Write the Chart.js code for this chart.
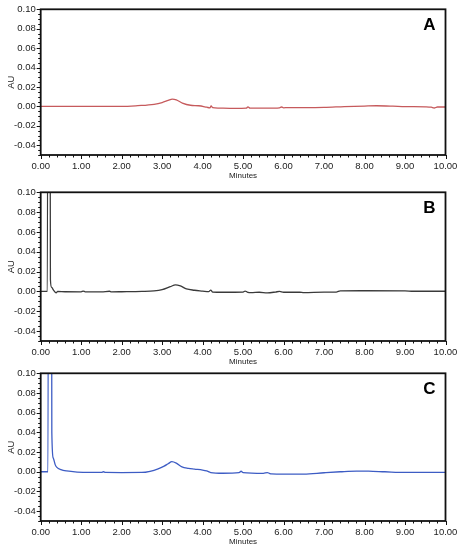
<!DOCTYPE html>
<html>
<head>
<meta charset="utf-8">
<script src="https://cdn.jsdelivr.net/npm/chart.js@4.4.1/dist/chart.umd.min.js"></script>
<style>
  body { margin: 0; background: #fff; }
  .panel { position: absolute; left: 0; width: 461px; }
</style>
</head>
<body>
<div class="panel" style="top:0px;height:183px"><canvas id="chartA" width="461" height="183"></canvas></div>
<div class="panel" style="top:183px;height:186px"><canvas id="chartB" width="461" height="186"></canvas></div>
<div class="panel" style="top:364px;height:185px"><canvas id="chartC" width="461" height="185"></canvas></div>
<script>
// chromatograms (minutes, AU)
const xTickValues = [0, 1, 2, 3, 4, 5, 6, 7, 8, 9, 10];
const yTickValues = [-0.04, -0.02, 0.00, 0.02, 0.04, 0.06, 0.08, 0.10];

const timesA = [0, 1.0, 2.0, 2.4, 2.8, 3.0, 3.15, 3.25, 3.35, 3.5, 3.7, 3.9, 4.1, 4.18, 4.21, 4.25, 4.4, 4.8, 5.08, 5.12, 5.17, 5.6, 5.9, 5.95, 6.0, 6.1, 6.5, 7.0, 7.5, 8.0, 8.3, 8.7, 9.0, 9.5, 9.65, 9.72, 9.8, 10.0];
const auA   = [0, 0, 0, 0.0008, 0.0022, 0.004, 0.0062, 0.0076, 0.0068, 0.0035, 0.0012, 0.0007, -0.0008, -0.0015, 0.0005, -0.0012, -0.0017, -0.002, -0.0018, -0.0004, -0.0018, -0.0018, -0.0014, -0.0006, -0.0014, -0.0012, -0.0012, -0.001, -0.0002, 0.0004, 0.0007, 0.0003, -0.0002, -0.0004, -0.0008, -0.0016, -0.0006, -0.0006];

const timesB = [0, 0.165, 0.185, 0.215, 0.24, 0.27, 0.32, 0.38, 0.42, 0.6, 1.0, 1.05, 1.1, 1.5, 1.7, 1.75, 2.0, 2.5, 2.8, 3.0, 3.2, 3.33, 3.45, 3.6, 3.8, 4.0, 4.15, 4.2, 4.25, 4.5, 5.0, 5.05, 5.1, 5.2, 5.4, 5.6, 5.8, 5.9, 6.0, 6.4, 6.5, 7.0, 7.3, 7.4, 8.0, 9.0, 9.2, 10.0];
const auB   = [0, 0, 0.6, 0.6, 0.012, 0.004, 0.001, -0.0015, 0.0, -0.0003, -0.0004, 0.0004, -0.0004, -0.0004, 0.0002, -0.0004, -0.0003, 0.0, 0.0005, 0.0018, 0.0048, 0.0066, 0.0055, 0.0025, 0.0012, 0.0004, -0.0002, 0.0014, -0.0006, -0.0008, -0.0006, 0.0004, -0.0006, -0.0012, -0.0008, -0.0014, -0.0006, 0.0, -0.0008, -0.0008, -0.0012, -0.0006, -0.0006, 0.0006, 0.0007, 0.0006, 0.0002, 0.0002];

const timesC = [0, 0.18, 0.2, 0.255, 0.275, 0.31, 0.36, 0.4, 0.5, 0.64, 0.9, 1.2, 1.5, 1.55, 1.6, 2.0, 2.5, 2.7, 2.9, 3.05, 3.15, 3.24, 3.35, 3.49, 3.65, 3.8, 4.0, 4.1, 4.2, 4.5, 4.9, 4.95, 5.0, 5.5, 5.6, 5.65, 5.7, 6.0, 6.5, 7.0, 7.4, 7.8, 8.1, 8.5, 9.0, 10.0];
const auC   = [0, 0, 0.6, 0.6, 0.04, 0.014, 0.007, 0.0045, 0.0022, 0.0008, -0.0003, -0.0007, -0.0007, 0.0, -0.0007, -0.0008, -0.0007, 0.0005, 0.003, 0.0058, 0.0082, 0.0103, 0.0088, 0.005, 0.0035, 0.0027, 0.0017, 0.0008, -0.0008, -0.0015, -0.0009, 0.0005, -0.0008, -0.0016, -0.0008, -0.0016, -0.0022, -0.0024, -0.0024, -0.001, 0.0, 0.0007, 0.0006, 0.0, -0.0007, -0.0007];

const FONT = '"Liberation Sans", Arial, Helvetica, sans-serif';

// frame, tick marks and panel letter
const framePlugin = {
  id: 'frame',
  afterDraw(chart, args, opts) {
    const {ctx, chartArea: a, scales: {x, y}} = chart;
    ctx.save();
    ctx.strokeStyle = '#111';
    ctx.lineWidth = 1.8;
    ctx.strokeRect(a.left, a.top, a.right - a.left, a.bottom - a.top);
    ctx.lineWidth = 1;
    ctx.beginPath();
    for (let i = 0; i <= 50; i++) {
      const px = Math.round(x.getPixelForValue(i * 0.2)) + 0.5;
      const len = i % 5 === 0 ? 4 : 2.5;
      ctx.moveTo(px, a.bottom);
      ctx.lineTo(px, a.bottom + len);
    }
    for (let i = 0; i <= 30; i++) {
      const v = -0.05 + i * 0.005;
      const py = Math.round(y.getPixelForValue(v)) + 0.5;
      const len = i % 4 === 2 ? 4 : 2.5;
      ctx.moveTo(a.left, py);
      ctx.lineTo(a.left - len, py);
    }
    ctx.stroke();
    ctx.fillStyle = '#000';
    ctx.font = 'bold 17px ' + FONT;
    ctx.textAlign = 'center';
    ctx.textBaseline = 'middle';
    ctx.fillText(opts.letter, a.right - 16, a.top + 16);
    ctx.restore();
  }
};

function makeChart(id, times, values, color, letter, topPad) {
  const points = times.map((t, i) => ({x: t, y: values[i]}));
  return new Chart(document.getElementById(id), {
    type: 'line',
    data: {
      datasets: [{
        data: points,
        borderColor: color,
        borderWidth: 1.3,
        pointRadius: 0,
        cubicInterpolationMode: 'monotone',
        fill: false
      }]
    },
    options: {
      responsive: false,
      animation: false,
      layout: {padding: {top: topPad, right: 15.5, left: 0, bottom: 0}},
      plugins: {
        legend: {display: false},
        tooltip: {enabled: false},
        frame: {letter: letter}
      },
      scales: {
        x: {
          type: 'linear',
          min: 0,
          max: 10,
          grid: {display: false, drawTicks: false},
          border: {display: false},
          afterBuildTicks: s => { s.ticks = xTickValues.map(v => ({value: v})); },
          afterFit: s => { s.height = 28; s.paddingLeft = 0; s.paddingRight = 0; },
          ticks: {
            padding: 6,
            maxRotation: 0,
            autoSkip: false,
            color: '#222',
            font: {family: FONT, size: 9.5},
            callback: v => v.toFixed(2)
          },
          title: {
            display: true,
            text: 'Minutes',
            color: '#222',
            padding: {top: 0, bottom: 2.5},
            font: {family: FONT, size: 8}
          }
        },
        y: {
          min: -0.05,
          max: 0.10,
          grid: {display: false, drawTicks: false},
          border: {display: false},
          afterBuildTicks: s => { s.ticks = yTickValues.map(v => ({value: v})); },
          afterFit: s => { s.width = 40.7; s.paddingTop = 0; s.paddingBottom = 0; },
          ticks: {
            padding: 5,
            autoSkip: false,
            color: '#222',
            font: {family: FONT, size: 9.5},
            callback: v => v.toFixed(2)
          },
          title: {
            display: true,
            text: 'AU',
            color: '#222',
            padding: {top: 6, bottom: 0},
            font: {family: FONT, size: 9.5}
          }
        }
      }
    },
    plugins: [framePlugin]
  });
}

makeChart('chartA', timesA, auA, '#c65a5c', 'A', 9.3);
makeChart('chartB', timesB, auB, '#3a3a3a', 'B', 9.3);
makeChart('chartC', timesC, auC, '#3d5cc4', 'C', 9.3);
</script>
</body>
</html>
